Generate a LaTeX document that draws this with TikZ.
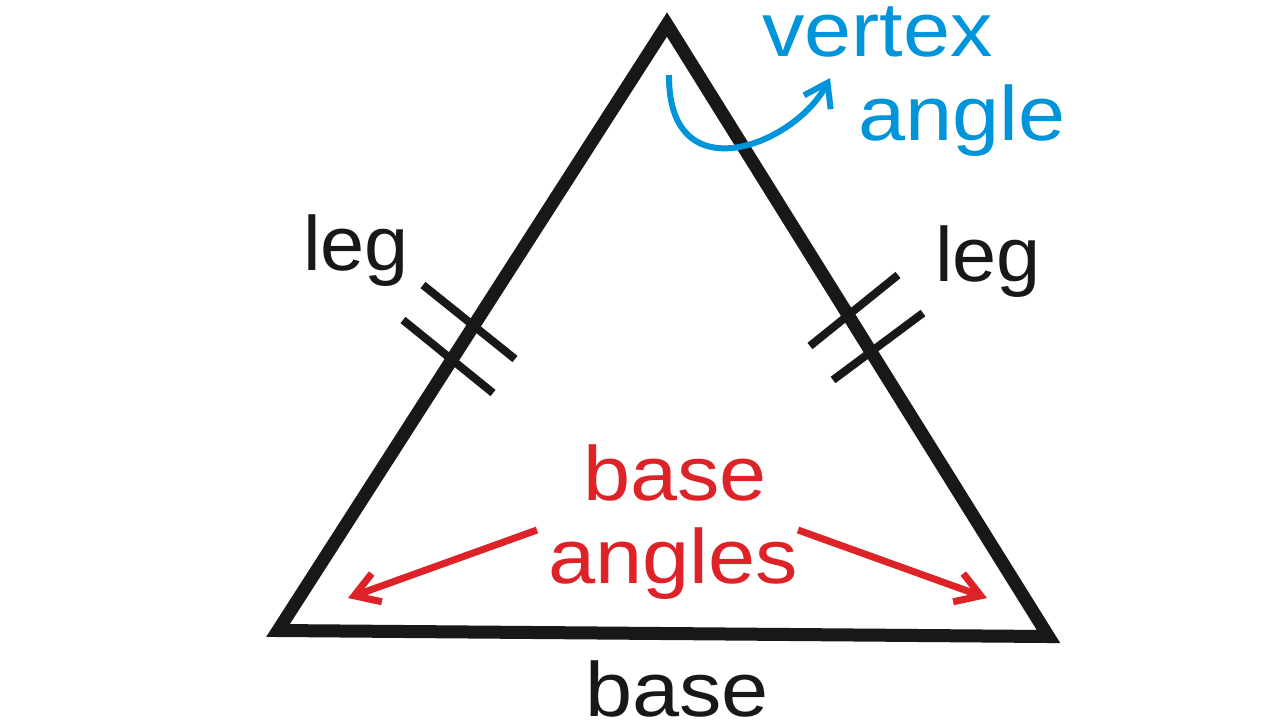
\documentclass[tikz,border=0pt]{standalone}
\usepackage{fontspec}
\setmainfont{Liberation Sans}
\newfontfamily\widefont[FakeStretch=1.1]{Liberation Sans}
\newfontfamily\legfont[FakeStretch=1.03]{Liberation Sans}
\usetikzlibrary{arrows.meta}
\definecolor{tblack}{RGB}{26,23,24}
\definecolor{tblue}{RGB}{0,149,218}
\definecolor{tred}{RGB}{222,35,40}
\tikzset{
  tri/.style={draw=tblack, line width=6.5pt, line join=miter},
  tick/.style={draw=tblack, line width=4pt},
  lbl/.style={anchor=base west, inner sep=0pt, outer sep=0pt},
  blk/.style={lbl, text=tblack, font=\legfont\fontsize{38.5}{46}\selectfont},
  blkw/.style={lbl, text=tblack, font=\widefont\fontsize{38.5}{46}\selectfont},
  blu/.style={lbl, text=tblue, font=\widefont\fontsize{38.5}{46}\selectfont},
  rd/.style={lbl, text=tred, font=\widefont\fontsize{38.5}{46}\selectfont},
  redarrow/.style={draw=tred, line width=3.5pt, -{Straight Barb[length=12pt, width=15pt, line width=3.5pt]}},
  bluearrow/.style={draw=tblue, line width=3pt, -{Straight Barb[length=11pt, width=15pt, line width=3pt]}}
}
\begin{document}
\begin{tikzpicture}[x=0.5pt, y=-0.5pt]
\useasboundingbox (0,0) rectangle (1280,720);
\fill[white] (0,0) rectangle (1280,720);
% triangle
\coordinate (A) at (667,24.5);
\coordinate (B) at (278,630.5);
\coordinate (C) at (1048.5,636.5);
\draw[tri] (A) -- (B) -- (C) -- cycle;
% tick marks
\coordinate (l1a) at (423,285); \coordinate (l1b) at (515,359);
\coordinate (l2a) at (403,320); \coordinate (l2b) at (493,393);
\coordinate (r1a) at (898,275); \coordinate (r1b) at (810,346);
\coordinate (r2a) at (923,313); \coordinate (r2b) at (833,380);
\draw[tick] (l1a) -- (l1b);
\draw[tick] (l2a) -- (l2b);
\draw[tick] (r1a) -- (r1b);
\draw[tick] (r2a) -- (r2b);
% labels
\node[blk] (legL) at (303,270) {leg};
\node[blk] (legR) at (935,281) {leg};
\node[blkw] (base) at (585,716) {base};
\node[blu] (vertex) at (762,56) {vertex};
\node[blu] (angle) at (858,140) {angle};
\node[rd] (rbase) at (583,500) {base};
\node[rd] (rangles) at (548,583) {angles};
% vertex angle arrow
\coordinate (vs) at (669,75);
\coordinate (ve) at (830,78);
\draw[bluearrow] (vs) .. controls (668,195) and (795,145) .. (ve);
% base angle arrows
\coordinate (la) at (537,530);
\coordinate (lt) at (348,598);
\coordinate (ra) at (798,530);
\coordinate (rt) at (987,598);
\draw[redarrow] (la) -- (lt);
\draw[redarrow] (ra) -- (rt);
\end{tikzpicture}
\end{document}
